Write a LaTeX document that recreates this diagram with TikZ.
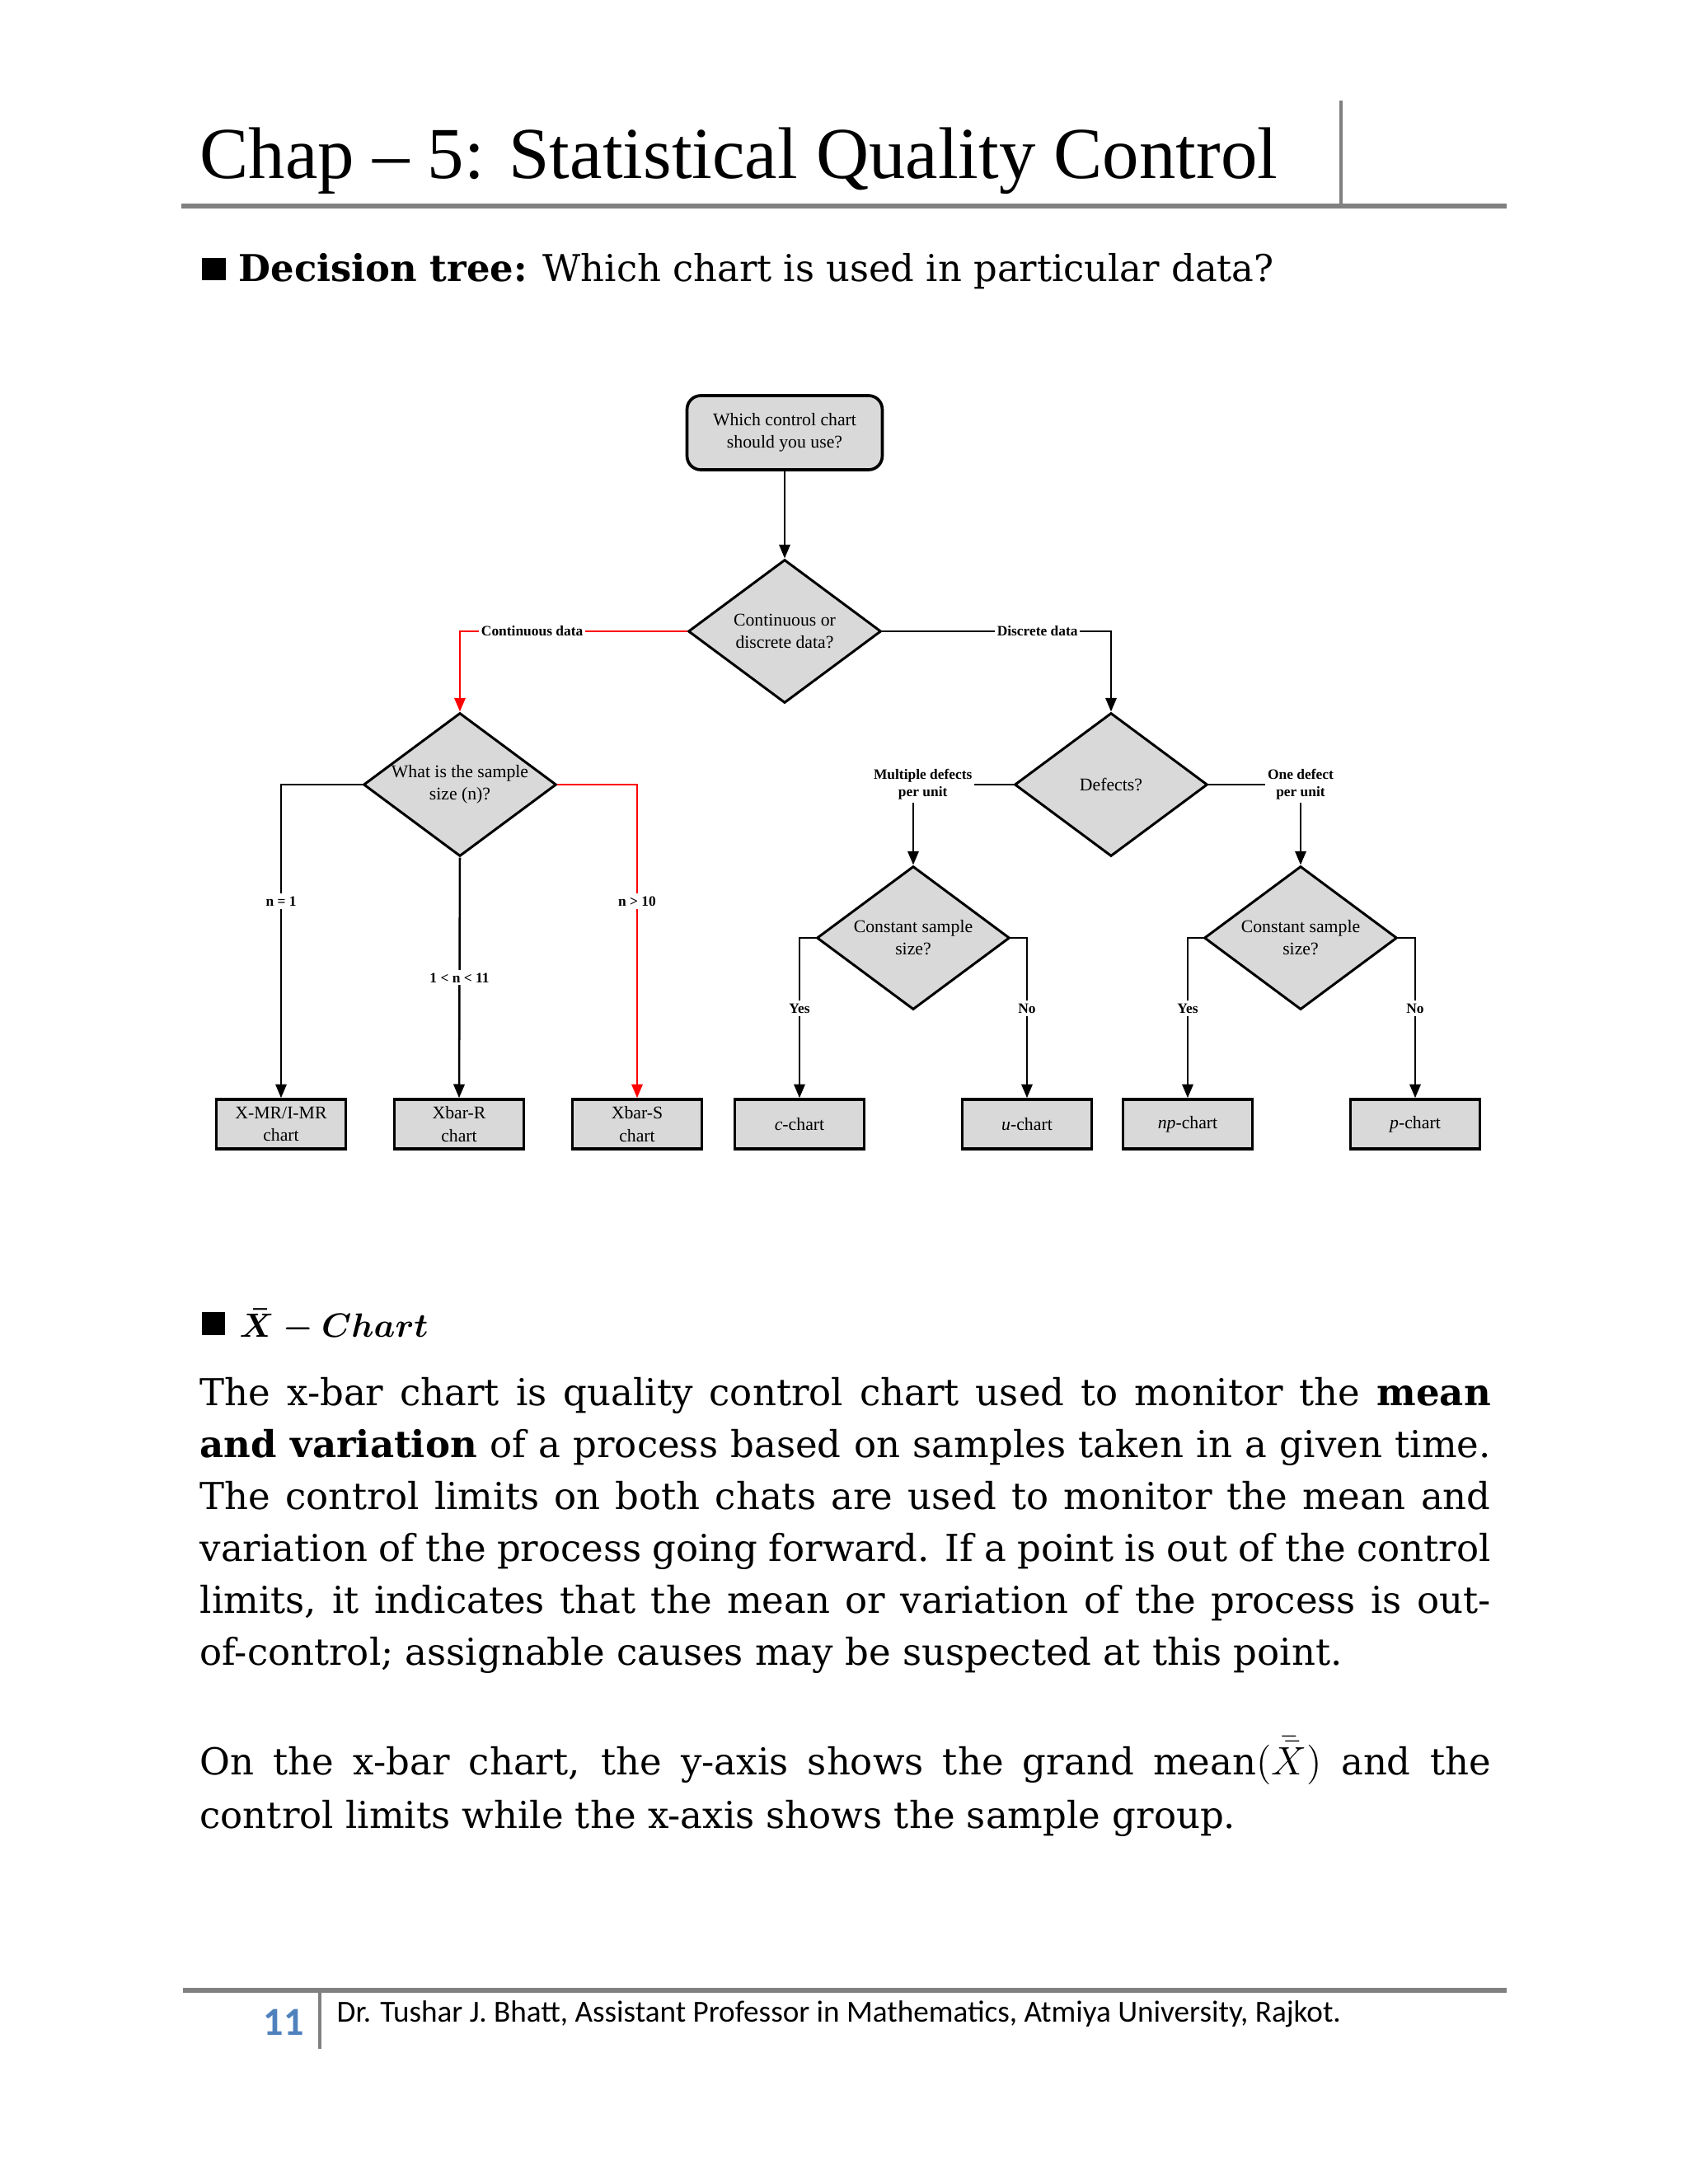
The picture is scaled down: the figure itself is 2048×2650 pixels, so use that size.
\documentclass[tikz,border=0pt]{standalone}
\usepackage{fontspec}
\usepackage{graphicx}
\setmainfont{DejaVu Serif}
\newfontfamily\titlefont{Liberation Serif}
\newfontfamily\chartfont{Liberation Serif}
\newfontfamily\footfont{Carlito}
\usetikzlibrary{shapes.geometric,arrows.meta}
\definecolor{boxgray}{HTML}{D9D9D9}
\definecolor{rulegray}{HTML}{808080}
\definecolor{numblue}{HTML}{4F81BD}
\newlength\natwA
\tikzset{
  grayfill/.style={fill=boxgray, draw=black},
  chartfont/.style={font=\chartfont\fontsize{6.5}{8.1}\selectfont},
  startbox/.style={rectangle, grayfill, rounded corners=5pt, line width=1.1pt, minimum width=70.8pt, minimum height=26.9pt, inner sep=0pt, align=center, chartfont},
  dia/.style={diamond, grayfill, line width=0.9pt, minimum width=69.9pt, minimum height=52pt, inner sep=0pt},
  diatext/.style={inner sep=0pt, align=center, chartfont},
  endbox/.style={rectangle, grayfill, line width=1.1pt, minimum width=46.9pt, minimum height=17.9pt, inner sep=0pt, align=center, chartfont},
  conn/.style={draw=black, line width=0.75pt, -{Triangle[length=5pt,width=4pt]}},
  redconn/.style={draw=red, line width=0.75pt, -{Triangle[length=5pt,width=4pt]}},
  elabel/.style={fill=white, inner xsep=0.8pt, inner ysep=1pt, align=center, text=black, font=\chartfont\bfseries\fontsize{5.2}{6.2}\selectfont},
  plain/.style={anchor=base west, inner sep=0pt},
  bullet/.style={fill=black, minimum width=8.4pt, minimum height=8.2pt, inner sep=0pt},
  rule/.style={draw=rulegray, line width=1.8pt},
  vrule/.style={draw=rulegray, line width=1.2pt},
}
\begin{document}
\settowidth\natwA{\fontsize{12}{14}\selectfont of-control; assignable causes may be suspected at this point.}%
\pgfmathsetmacro\bsz{12*414.2/\natwA}%
\begin{tikzpicture}[x=0.29883pt,y=-0.29883pt]
\tikzset{body/.style={plain, font=\fontsize{\bsz}{\bsz}\selectfont}}
\fill[white] (0,0) rectangle (2048,2650);
\useasboundingbox (0,0) rectangle (2048,2650);

% header
\node[plain] (title) at (242,216) {\resizebox{390.6pt}{!}{\titlefont Chap – 5: Statistical Quality Control}};
\draw[rule] (220,250) -- (1828,250);
\draw[vrule] (1627,122) -- (1627,247);

% decision tree heading
\node[bullet] (b0) at (259.5,326.5) {};
\node[plain] (dh) at (289,341) {\resizebox{375.3pt}{!}{\textbf{Decision tree:} Which chart is used in particular data?}};

% flowchart
\node[startbox] (top) at (952,525) {Which control chart\\should you use?};
\node[dia] (d1) at (952,766) {};
\node[diatext] (d1t) at (952,766) {Continuous or\\discrete data?};
\node[dia] (d2) at (558,952) {};
\node[diatext] (d2t) at (558,952) {What is the sample\\size (n)?};
\node[dia] (d3) at (1348,952) {};
\node[diatext] (d3t) at (1348,952) {Defects?};
\node[dia] (d4) at (1108,1138) {};
\node[diatext] (d4t) at (1108,1138) {Constant sample\\size?};
\node[dia] (d5) at (1578,1138) {};
\node[diatext] (d5t) at (1578,1138) {Constant sample\\size?};

\node[endbox] (e1) at (341,1364) {X-MR/I-MR\\chart};
\node[endbox] (e2) at (557,1364) {Xbar-R\\chart};
\node[endbox] (e3) at (773,1364) {Xbar-S\\chart};
\node[endbox] (e4) at (970,1364) {\textit{c}-chart};
\node[endbox] (e5) at (1246,1364) {\textit{u}-chart};
\node[endbox] (e6) at (1441,1364) {\textit{np}-chart};
\node[endbox] (e7) at (1717,1364) {\textit{p}-chart};

\draw[conn] (top) -- (d1);
\draw[redconn] (d1.west) -| node[elabel,pos=0.341] (lc) {Continuous data} (d2.north);
\draw[conn] (d1.east) -| node[elabel,pos=0.339] (ld) {Discrete data} (d3.north);
\draw[conn] (d2.west) -| node[elabel,pos=0.686] (la) {n = 1} (e1.north);
\draw[conn] (d2.south) -- node[elabel,pos=0.5] (lb) {1 < n < 11} (e2.north);
\draw[redconn] (d2.east) -| node[elabel,pos=0.686] (lcc) {n > 10} (e3.north);
\draw[conn] (d3.west) -| node[elabel,pos=0.5,xshift=3.5pt] (lm) {Multiple defects\\per unit} (d4.north);
\draw[conn] (d3.east) -| node[elabel,pos=0.5] (lo) {One defect\\per unit} (d5.north);
\draw[conn] (d4.west) -| node[elabel,pos=0.72] (y1) {Yes} (e4.north);
\draw[conn] (d4.east) -| node[elabel,pos=0.72] (n1) {No} (e5.north);
\draw[conn] (d5.west) -| node[elabel,pos=0.72] (y2) {Yes} (e6.north);
\draw[conn] (d5.east) -| node[elabel,pos=0.72] (n2) {No} (e7.north);

% X-bar chart heading
\node[bullet] (b1) at (259,1606) {};
\node[plain] (xh) at (290,1622) {\resizebox{68.4pt}{!}{\boldmath$\bar{X}-Chart$}};

% paragraph 1
\node[body] (p1) at (242,1705) {\makebox[468pt][s]{The x-bar chart is quality control chart used to monitor the \textbf{mean}}};
\node[body] (p2) at (242,1768) {\makebox[468pt][s]{\textbf{and variation} of a process based on samples taken in a given time.}};
\node[body] (p3) at (242,1831) {\makebox[468pt][s]{The control limits on both chats are used to monitor the mean and}};
\node[body] (p4) at (242,1894) {\makebox[468pt][s]{variation of the process going forward. If a point is out of the control}};
\node[body] (p5) at (242,1957) {\makebox[468pt][s]{limits, it indicates that the mean or variation of the process is out-}};
\node[body] (p6) at (242,2020) {of-control; assignable causes may be suspected at this point.};

% paragraph 2
\node[body] (q1) at (242,2153) {\makebox[468pt][s]{On the x-bar chart, the y-axis shows the grand mean$\bigl(\bar{\bar{X}}\bigr)$ and the}};
\node[body] (q2) at (242,2218) {control limits while the x-axis shows the sample group.};

% footer
\draw[rule] (222,2415) -- (1828,2415);
\draw[vrule] (388,2418) -- (388,2486);
\node[plain, text=numblue] (pg) at (319,2469) {\resizebox{14.6pt}{!}{\footfont\bfseries 11}};
\node[plain] (ft) at (408,2453) {\resizebox{364pt}{!}{\footfont Dr. Tushar J. Bhatt, Assistant Professor in Mathematics, Atmiya University, Rajkot.}};
\end{tikzpicture}
\end{document}
